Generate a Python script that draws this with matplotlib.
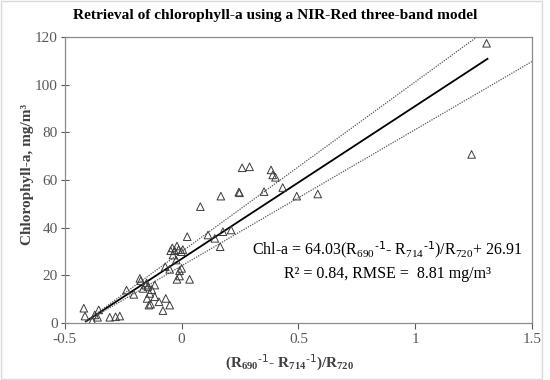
import matplotlib
matplotlib.use("Agg")
import matplotlib.pyplot as plt
import numpy as np
from matplotlib.patches import Rectangle

# ---- data ----
x_vals = [-0.419, -0.414, -0.383, -0.372, -0.355, -0.360, -0.308, -0.283, -0.265,
          -0.236, -0.205, -0.179, -0.175, -0.165, -0.154, -0.145, -0.137, -0.115,
          -0.148, -0.115, -0.140, -0.133, -0.097, -0.080, -0.068, -0.051, -0.070,
          -0.051, -0.047, -0.037, -0.030, -0.020, -0.013, -0.001, -0.023, -0.009,
          0.000, -0.020, -0.009, 0.034, 0.024, 0.080, 0.113, 0.142, 0.165, 0.177,
          0.168, 0.212, 0.248, 0.245, 0.259, 0.291, 0.353, 0.383, 0.390, 0.402,
          0.433, 0.493, 0.583, 1.242, 1.306, -0.150, -0.128, -0.040, 0.005]
y_vals = [6.2, 2.9, 0.8, 3.4, 5.5, 2.4, 2.4, 2.6, 2.9,
          13.8, 12.0, 18.7, 17.7, 14.5, 15.9, 15.3, 12.4, 15.9,
          10.3, 11.0, 7.5, 7.9, 8.9, 5.2, 10.3, 7.5, 23.6,
          22.5, 30.3, 28.5, 30.3, 32.3, 30.7, 29.9, 26.4, 21.9,
          22.9, 18.3, 19.7, 18.3, 36.2, 48.8, 36.9, 35.5, 32.0, 38.3,
          53.2, 39.0, 54.6, 54.9, 65.1, 65.5, 55.1, 64.2, 62.1, 61.1,
          56.8, 53.2, 54.1, 70.7, 117.3, 16.8, 14.0, 31.5, 30.8]

fit_slope, fit_intercept = 64.03, 26.91
fit_x_range = [-0.41, 1.31]
band_slopes = [71.2, 57.1]      # upper / lower dotted lines
band_pivot = -0.42              # x where dotted lines meet y=0
band_x_range = [-0.41, 1.5]

x_ticks = [-0.5, 0, 0.5, 1, 1.5]
x_ticklabels = ["-0.5", "0", "0.5", "1", "1.5"]
y_ticks = [0, 20, 40, 60, 80, 100, 120]

title = "Retrieval of chlorophyll-a using a NIR-Red three-band model"
ylabel = "Chlorophyll-a, mg/m³"
xlabel = r"$(R_{690}{}^{\text{-1}}$- $R_{714}{}^{\text{-1}})/R_{720}$"
eq_line1 = r"Chl-a = 64.03$(R_{690}{}^{\text{-1}}$- $R_{714}{}^{\text{-1}})/R_{720}$+ 26.91"
eq_line2 = "R² = 0.84, RMSE =  8.81 mg/m³"

# ---- style ----
plt.rcParams['font.family'] = ['Liberation Serif', 'DejaVu Serif']
plt.rcParams['mathtext.default'] = 'regular'

fig = plt.figure(figsize=(5.5, 3.8), dpi=100)
ax = fig.add_axes([0.118, 0.150, 0.849, 0.753])

ax.scatter(x_vals, y_vals, marker='^', s=30, facecolors='none',
           edgecolors='#3a3a3a', linewidths=0.7, zorder=3)

xf = np.array(fit_x_range)
ax.plot(xf, fit_slope * xf + fit_intercept, color='black', lw=1.3, zorder=2)
xb = np.array(band_x_range)
for s in band_slopes:
    ax.plot(xb, s * (xb - band_pivot), color='#555555', lw=0.9,
            linestyle=(0, (1, 1)), zorder=2)

ax.set_xlim(-0.5, 1.5)
ax.set_ylim(0, 120)
ax.set_xticks(x_ticks)
ax.set_xticklabels(x_ticklabels)
ax.set_yticks(y_ticks)
ax.tick_params(axis='both', labelsize=11, colors='#595959', labelcolor='#595959')
ax.tick_params(axis='y', direction='inout', length=6, pad=2)
ax.tick_params(axis='x', direction='out', length=4, pad=3)
for sp in ax.spines.values():
    sp.set_color('#8c8c8c')
    sp.set_linewidth(0.9)

fig.text(0.500, 0.960, title, ha='center', va='center', fontsize=11.1,
         fontweight='bold', color='black')
fig.text(0.527, 0.048, xlabel, ha='center', va='center', fontsize=11,
         fontweight='bold', color='#404040')
fig.text(0.05, 0.54, ylabel, ha='center', va='center', fontsize=11,
         fontweight='bold', color='#404040', rotation=90)

ax.text(0.69, 0.255, eq_line1, transform=ax.transAxes, ha='center', va='center',
        fontsize=11.5, color='black')
ax.text(0.69, 0.17, eq_line2, transform=ax.transAxes, ha='center', va='center',
        fontsize=11.5, color='black')

fig.patches.append(Rectangle((0.002, 0.003), 0.984, 0.994, transform=fig.transFigure,
                             fill=False, edgecolor='#d9d9d9', lw=1.0))

fig.savefig("out.png", dpi=100)
